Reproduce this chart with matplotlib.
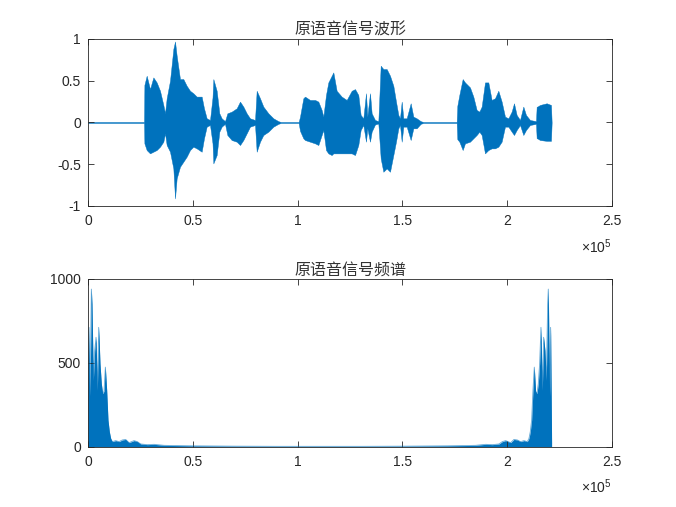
import matplotlib
matplotlib.use("Agg")
import matplotlib.pyplot as plt
import numpy as np

plt.rcParams['font.family'] = ['Liberation Sans', 'Noto Sans CJK SC', 'DejaVu Sans']
plt.rcParams['mathtext.fontset'] = 'custom'
plt.rcParams['mathtext.rm'] = 'Liberation Sans'
plt.rcParams['mathtext.it'] = 'Liberation Sans'

BLUE = '#0072BD'
DARK = '#262626'

# ---------- data ----------
n_samples = 221200

# waveform envelope: sample index, upper and lower amplitude
wave_x = [0, 26720, 26900, 27990, 29580, 31170, 32760, 34350, 35940, 36740, 37530,
          39120, 40710, 41510, 42300, 43890, 45480, 47070, 48660, 50250, 51850,
          54230, 55340, 56620, 58210, 59400, 59800, 61390, 62660, 63770, 65360,
          66480, 68540, 70930, 72520, 74110, 75700, 77290, 79680, 80470, 82060,
          83650, 86040, 88430, 90810, 92000, 100500, 101150, 102730, 103530,
          105920, 108300, 109890, 111480, 112280, 113550, 114660, 116250, 117050,
          118640, 121020, 123410, 125800, 127390, 128970, 130090, 131360, 132630,
          133270, 134540, 135340, 136930, 138520, 139640, 140910, 142500, 144090,
          145680, 146950, 148070, 148860, 149660, 150450, 152040, 153950, 155220,
          156810, 158720, 160000, 175900, 176210, 177170, 178760, 179870, 182250,
          183840, 185430, 186700, 187820, 189410, 191000, 192590, 194180, 195770,
          197360, 198950, 200540, 202130, 203250, 204520, 206110, 207700, 208970,
          210880, 213740, 214060, 214380, 215650, 218830, 220900, 221220]
wave_up = [0.006, 0.006, 0.45, 0.56, 0.40, 0.54, 0.48, 0.38, 0.21, 0.11, 0.29,
           0.50, 0.88, 0.97, 0.80, 0.52, 0.52, 0.44, 0.38, 0.35, 0.31,
           0.31, 0.17, 0.05, 0.03, 0.30, 0.52, 0.38, 0.11, 0.05, 0.016,
           0.11, 0.13, 0.17, 0.25, 0.19, 0.11, 0.05, 0.03, 0.38, 0.29,
           0.19, 0.11, 0.05, 0.016, 0.006, 0.006, 0.07, 0.29, 0.31,
           0.27, 0.27, 0.25, 0.15, 0.07, 0.33, 0.48, 0.56, 0.60,
           0.38, 0.31, 0.27, 0.38, 0.40, 0.33, 0.09, 0.05, 0.35,
           0.07, 0.35, 0.11, 0.03, 0.016, 0.68, 0.64, 0.64, 0.56,
           0.44, 0.25, 0.09, 0.05, 0.25, 0.05, 0.05, 0.23, 0.07,
           0.05, 0.016, 0.006, 0.006, 0.20, 0.33, 0.52, 0.48, 0.42,
           0.31, 0.15, 0.13, 0.19, 0.48, 0.48, 0.27, 0.29, 0.38,
           0.25, 0.07, 0.05, 0.13, 0.23, 0.09, 0.03, 0.19, 0.09,
           0.03, 0.016, 0.19, 0.19, 0.21, 0.23, 0.21, 0.0]
wave_lo = [-0.006, -0.006, -0.25, -0.33, -0.37, -0.35, -0.33, -0.29, -0.23, -0.13, -0.27,
           -0.35, -0.55, -0.91, -0.67, -0.53, -0.47, -0.41, -0.33, -0.29, -0.31,
           -0.35, -0.19, -0.05, -0.03, -0.25, -0.49, -0.39, -0.11, -0.05, -0.016,
           -0.15, -0.21, -0.23, -0.27, -0.21, -0.13, -0.05, -0.03, -0.35, -0.23,
           -0.15, -0.11, -0.05, -0.016, -0.006, -0.006, -0.10, -0.19, -0.21,
           -0.23, -0.25, -0.27, -0.15, -0.09, -0.33, -0.37, -0.39, -0.37,
           -0.37, -0.37, -0.37, -0.37, -0.39, -0.27, -0.09, -0.03, -0.23,
           -0.07, -0.23, -0.11, -0.024, -0.012, -0.43, -0.59, -0.55, -0.59,
           -0.39, -0.23, -0.07, -0.03, -0.23, -0.05, -0.05, -0.21, -0.07,
           -0.07, -0.016, -0.006, -0.006, -0.20, -0.23, -0.33, -0.25, -0.23,
           -0.19, -0.15, -0.11, -0.15, -0.37, -0.33, -0.31, -0.31, -0.29,
           -0.23, -0.05, -0.05, -0.11, -0.15, -0.09, -0.03, -0.15, -0.09,
           -0.03, -0.016, -0.19, -0.19, -0.21, -0.22, -0.22, 0.0]

# spectrum magnitude (first half, read as alternating peaks/valleys), mirrored for the second half
spec_x = [0, 480, 950, 1590, 1900, 2540, 3180, 3820, 4450, 5090, 5730, 6360,
          7000, 7630, 8270, 8910, 9540, 10180, 10810, 11610, 13200, 14790,
          16380, 17970, 19560, 21950, 23540, 25130, 28300, 31490, 36260,
          40000, 50000, 70000, 90000, 110600]
spec_val = [20, 711, 300, 939, 850, 395, 573, 652, 336, 711, 494, 375,
            316, 330, 474, 336, 158, 89, 49, 30, 36, 30,
            40, 43, 24, 36, 30, 16, 12, 14, 8,
            7, 5, 3, 2, 2]

# ---------- figure ----------
fig = plt.figure(figsize=(6.76, 5.07), dpi=100)
ax1 = fig.add_axes([0.1302, 0.5937, 0.7751, 0.3294])
ax2 = fig.add_axes([0.1302, 0.1190, 0.7751, 0.3310])

wx = np.array(wave_x)
ax1.fill_between(wx, wave_lo, wave_up, color=BLUE, linewidth=0.3, edgecolor=BLUE)

sx = np.array(spec_x, dtype=float)
sv = np.array(spec_val, dtype=float)
full_x = np.concatenate([sx, (n_samples - sx)[::-1]])
full_v = np.concatenate([sv, sv[::-1]])
ax2.fill_between(full_x, 0, full_v, color=BLUE, linewidth=0)
ax2.plot(full_x, full_v, color=BLUE, linewidth=0.6, alpha=0.6)

titles = ['原语音信号波形', '原语音信号频谱']
exp_y = [-0.246, -0.24]
for ax, t, ey in zip([ax1, ax2], titles, exp_y):
    ax.set_xlim(0, 2.5e5)
    ax.set_xticks([0, 0.5e5, 1e5, 1.5e5, 2e5, 2.5e5])
    ax.set_xticklabels(['0', '0.5', '1', '1.5', '2', '2.5'])
    ax.tick_params(direction='in', length=4, width=0.6, top=True, right=True,
                   labelsize=10, colors=DARK)
    ax.tick_params(axis='x', pad=6)
    ax.tick_params(axis='y', pad=5)
    for s in ax.spines.values():
        s.set_color(DARK)
        s.set_linewidth(0.6)
    ax.set_title(t, fontsize=11.5, color='#333333', pad=3,
                 family=['Noto Sans CJK SC', 'DejaVu Sans'])
    ax.text(1.0, ey, r'$\times$10$^5$', transform=ax.transAxes,
            ha='right', va='center', fontsize=10, color=DARK)

ax1.set_ylim(-1, 1)
ax1.set_yticks([-1, -0.5, 0, 0.5, 1])
ax1.set_yticklabels(['-1', '-0.5', '0', '0.5', '1'])
ax2.set_ylim(0, 1000)
ax2.set_yticks([0, 500, 1000])

fig.savefig('out.png', dpi=100)
